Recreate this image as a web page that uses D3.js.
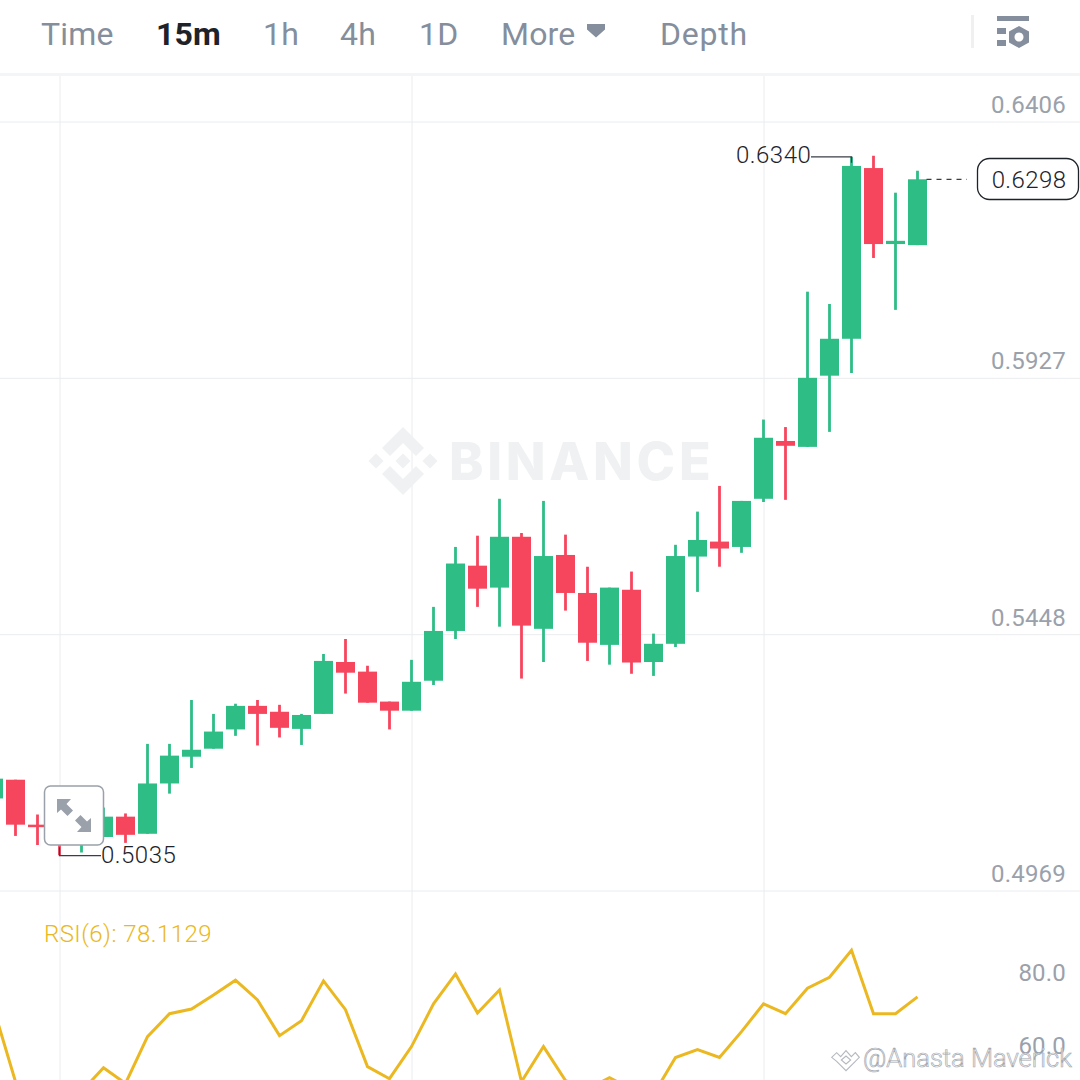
<!DOCTYPE html>
<html><head><meta charset="utf-8">
<script src="https://cdn.jsdelivr.net/npm/d3@7/dist/d3.min.js"></script>
<style>html,body{margin:0;padding:0;background:#fff}svg{display:block}text{font-family:Roboto,"Noto Sans",sans-serif}</style>
</head><body><svg id="c" width="1080" height="1080"></svg>
<script>
const tabs=["Time","15m","1h","4h","1D","More","Depth"];
const tabX=[41,156,263,340,419,501,660];
const priceTicks=[0.6406,0.5927,0.5448,0.4969];
const rsiTicks=[80,60];
const timeTicks=[0,16,32];
const candleIdx=d3.range(-3,40);
const opens=[.5141,.5176,.5092,.5088,.5056,.5069,.5107,.5075,.5169,.5219,.5234,.5270,.5314,.5303,.5271,.5299,.5396,.5378,.5322,.5305,.5361,.5454,.5576,.5535,.5630,.5458,.5596,.5525,.5428,.5531,.5396,.5430,.5593,.5621,.5611,.5701,.5809,.5798,.5931,.6000,.6319,.6177,.6175];
const closes=[.5178,.5092,.5088,.5058,.5075,.5107,.5073,.5169,.5221,.5232,.5266,.5314,.5299,.5273,.5297,.5398,.5376,.5320,.5305,.5359,.5454,.5580,.5533,.5630,.5464,.5594,.5525,.5432,.5535,.5395,.5430,.5594,.5624,.5608,.5697,.5815,.5800,.5927,.6000,.6323,.6177,.6183,.6298];
const highs=[.5178,.5176,.5111,.5088,.5088,.5124,.5113,.5243,.5243,.5325,.5299,.5318,.5325,.5316,.5299,.5411,.5439,.5389,.5322,.5400,.5499,.5611,.5632,.5701,.5637,.5697,.5634,.5574,.5535,.5565,.5449,.5615,.5677,.5725,.5697,.5849,.5835,.6088,.6065,.6340,.6342,.6273,.6314];
const lows=[.5141,.5071,.5054,.5035,.5040,.5069,.5058,.5075,.5150,.5198,.5234,.5258,.5240,.5255,.5241,.5299,.5337,.5320,.5270,.5305,.5353,.5439,.5499,.5462,.5365,.5396,.5492,.5398,.5391,.5374,.5370,.5424,.5527,.5574,.5600,.5695,.5699,.5798,.5826,.5936,.6151,.6054,.6175];
const rsi=[75.1,54.9,51.4,50.0,52.2,58.7,54.4,67.2,73.5,74.8,78.6,82.7,77.3,67.5,71.6,82.5,74.6,59.0,55.7,64.5,76.2,84.4,73.7,80.0,54.9,64.5,55.2,52.8,56.0,52.8,51.4,61.5,63.7,61.5,68.6,76.2,73.5,80.5,83.5,90.9,73.5,73.5,78.11];
const GREEN="#2EBD85",RED="#F6465D",GREY="#9AA1AB",TAB="#848E9C",DARK="#1E2329",GRID="#EAECEF",GOLD="#EBB821";

const svg=d3.select("#c");
const x=d3.scaleLinear().domain([0,16]).range([59.5,411.5]);
const y=d3.scaleLinear().domain([0.4969,0.6406]).range([890.5,121.5]);
const yR=d3.scaleLinear().domain([60,80]).range([1063,990]);

// header
svg.append("rect").attr("x",0).attr("y",73).attr("width",1080).attr("height",3).attr("fill","#F4F5F6");
svg.selectAll(".tab").data(tabs).join("text").attr("class","tab")
  .attr("x",(d,i)=>tabX[i]).attr("y",45).attr("font-size",32)
  .attr("font-weight",d=>d==="15m"?700:400).attr("fill",d=>d==="15m"?DARK:TAB)
  .attr("letter-spacing",d=>d==="Depth"?0.8:0.2).text(d=>d);
svg.append("path").attr("d","M587 24H605V29.5L596 37.5L587 29.5Z").attr("fill",TAB);
svg.append("rect").attr("x",971).attr("y",15).attr("width",3).attr("height",33).attr("fill","#EEF0F2");
const ic=svg.append("g").attr("fill",TAB);
ic.append("rect").attr("x",997).attr("y",16).attr("width",32).attr("height",5);
ic.append("rect").attr("x",997).attr("y",28).attr("width",9).attr("height",6);
ic.append("rect").attr("x",997).attr("y",40).attr("width",9).attr("height",6);
ic.append("path").attr("fill-rule","evenodd").attr("d","M1019 26L1029 31.5V42.5L1019 48L1009 42.5V31.5ZM1019 32.5a4.5 4.5 0 1 0 .01 0Z");

// grid via axes
const yAxis=d3.axisRight(y).tickValues(priceTicks).tickSize(1080).tickFormat(d3.format(".4f"));
const gy=svg.append("g").call(yAxis);
gy.select(".domain").remove();
gy.selectAll("line").attr("stroke",GRID);
gy.selectAll("text").attr("x",1066).attr("dy",-9).attr("text-anchor","end").attr("font-size",24).attr("letter-spacing",.2).attr("fill",GREY).style("font-family","Roboto,sans-serif");
const xAxis=d3.axisTop(x).tickValues(timeTicks).tickSize(-1004).tickFormat("");
const gx=svg.append("g").attr("transform","translate(0,76)").call(xAxis);
gx.select(".domain").remove();
gx.selectAll("line").attr("stroke",GRID);

// watermark
const wm=svg.append("g").attr("fill","#EFF1F2");
const lg=(cx,cy)=>{
  const dia=(a,b,r)=>`M${cx+a-r} ${cy+b}L${cx+a} ${cy+b-r}L${cx+a+r} ${cy+b}L${cx+a} ${cy+b+r}Z`;
  wm.append("path").attr("d",dia(-27,0,7.5)+dia(27,0,7.5)+dia(0,0,7.5)
    +`M${cx} ${cy-34}L${cx+21} ${cy-13}L${cx+13} ${cy-5}L${cx} ${cy-18}L${cx-13} ${cy-5}L${cx-21} ${cy-13}Z`
    +`M${cx} ${cy+34}L${cx+21} ${cy+13}L${cx+13} ${cy+5}L${cx} ${cy+18}L${cx-13} ${cy+5}L${cx-21} ${cy+13}Z`);
};
lg(403,461);
wm.append("text").attr("x",449).attr("y",480).attr("font-size",52).attr("font-weight",800).attr("letter-spacing",3.7).style("font-family","Inter,sans-serif").text("BINANCE");

// candles
const C=candleIdx.map((t,i)=>({t,o:opens[i],c:closes[i],h:highs[i],l:lows[i]}));
const col=d=>d.c>=d.o?GREEN:RED;
svg.selectAll(".wick").data(C).join("line").attr("class","wick")
  .attr("x1",d=>x(d.t)).attr("x2",d=>x(d.t)).attr("y1",d=>y(d.h)).attr("y2",d=>y(d.l))
  .attr("stroke",col).attr("stroke-width",2.8);
svg.selectAll(".body").data(C).join("rect").attr("class","body")
  .attr("x",d=>x(d.t)-9.5).attr("width",19)
  .attr("y",d=>y(Math.max(d.o,d.c))).attr("height",d=>Math.max(2.5,Math.abs(y(d.o)-y(d.c))))
  .attr("fill",col);

// hi / lo annotations
svg.append("path").attr("d",`M${x(0)} ${y(.5035)-8}V${y(.5035)+.5}H101`).attr("fill","none").attr("stroke","#3A3F47").attr("stroke-width",1.3);
svg.append("text").attr("x",101).attr("y",863).attr("font-size",24).attr("font-weight",300).attr("letter-spacing",.5).attr("fill",DARK).text("0.5035");
svg.append("path").attr("d",`M${x(36)} ${y(.6340)+6}V${y(.6340)}H811`).attr("fill","none").attr("stroke","#3A3F47").attr("stroke-width",1.3);
svg.append("text").attr("x",736).attr("y",163).attr("font-size",24).attr("font-weight",300).attr("letter-spacing",.5).attr("fill",DARK).text("0.6340");
svg.append("line").attr("x1",x(39)+9).attr("x2",967).attr("y1",y(.6298)).attr("y2",y(.6298)).attr("stroke","#3A3F47").attr("stroke-width",1.2).attr("stroke-dasharray","5 5");
svg.append("rect").attr("x",977.5).attr("y",158.5).attr("width",101).attr("height",41).attr("rx",12).attr("fill","#fff").attr("stroke",DARK).attr("stroke-width",1.3);
svg.append("text").attr("x",1029).attr("y",188).attr("text-anchor","middle").attr("font-size",24).attr("font-weight",300).attr("letter-spacing",.4).attr("fill",DARK).text("0.6298");

// expand button
svg.append("rect").attr("x",44.5).attr("y",786).attr("width",59).attr("height",59).attr("rx",6).attr("fill","#fff").attr("stroke",GREY).attr("stroke-width",1.5);
svg.append("path").attr("fill",GREY).attr("d","M57 799H71L66.5 804L73 810.5L67.5 816L61 809.5L57 813Z M91 832H77L81.5 827L75 820.5L80.5 815L87 821.5L91 818Z");

// RSI
svg.append("text").attr("x",44).attr("y",942).attr("font-size",24).attr("font-weight",300).attr("letter-spacing",.45).attr("fill",GOLD).text("RSI(6): 78.1129");
const defs=svg.append("defs");
defs.append("clipPath").attr("id","cp").append("rect").attr("x",0).attr("y",892).attr("width",1080).attr("height",188);
svg.append("path").attr("clip-path","url(#cp)").datum(candleIdx.map((t,i)=>[t,rsi[i]]))
  .attr("d",d3.line().x(d=>x(d[0])).y(d=>yR(d[1]))).attr("fill","none").attr("stroke",GOLD).attr("stroke-width",3).attr("stroke-linejoin","miter");
const ra=d3.axisRight(yR).tickValues(rsiTicks).tickSize(0).tickFormat(d3.format(".1f"));
const gr=svg.append("g").call(ra);
gr.select(".domain").remove();
gr.selectAll("text").attr("x",1066).attr("dy",-10).attr("text-anchor","end").attr("font-size",24).attr("letter-spacing",.2).attr("fill",GREY).style("font-family","Roboto,sans-serif");

// author mark
const Z=(a,b)=>`${820+a/3} ${1030+b/3}`;
svg.append("path").attr("fill","none").attr("stroke","#B4B9BF").attr("stroke-width",1.1)
  .attr("d",`M${Z(35,82)}L${Z(50,68)}L${Z(62,80)}L${Z(78,62)}L${Z(94,80)}L${Z(106,68)}L${Z(118,82)}L${Z(106,94)}L${Z(78,122)}L${Z(50,94)}Z M${Z(64,90)}L${Z(78,78)}L${Z(92,90)}L${Z(78,102)}Z`);
svg.append("text").attr("x",863).attr("y",1067).attr("font-size",25.5).attr("font-weight",300).attr("fill","#fff").attr("fill-opacity",.85).attr("stroke","#A4A9B0").attr("stroke-width",.7).text("@Anasta Maverick");
</script></body></html>
